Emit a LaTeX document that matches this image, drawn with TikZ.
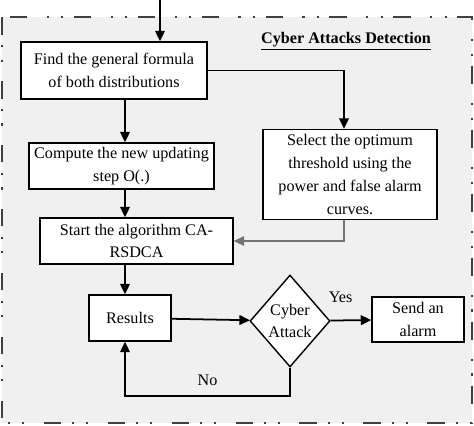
\documentclass[tikz,border=0pt]{standalone}
\usepackage{fontspec}
\setmainfont{Liberation Serif}
\usetikzlibrary{arrows.meta,shapes.geometric}

\begin{document}
\begin{tikzpicture}[x=0.02cm, y=-0.02cm, >={Triangle[length=6pt,width=5.5pt]},
  font=\fontsize{9.2}{13}\selectfont]
\tikzset{box/.style={rectangle, draw=black, line width=0.8pt, fill=white, align=center, inner sep=0pt},
  flow/.style={->, line width=1pt}}
\useasboundingbox (0,0) rectangle (474,426);
\draw[black!75, line width=1.6pt, fill=black!6, dash pattern=on 10pt off 6pt on 1.2pt off 7pt on 1.2pt off 11pt] (2,17) rectangle (472,423);
\node (title) at (346,41) {\textbf{\underline{Cyber Attacks Detection}}};
\node (find) at (114,70.5) [box, minimum width=3.72cm, minimum height=1.14cm] {Find the general formula\\of both distributions};
\node (compute) at (121.5,166) [box, minimum width=3.7cm, minimum height=0.92cm] {Compute the new updating\\step O(.)};
\node (start) at (136.5,241) [box, minimum width=3.86cm, minimum height=0.92cm] {Start the algorithm CA-\\RSDCA};
\node (select) at (350,174.5) [box, minimum width=3.48cm, minimum height=1.8cm] {Select the optimum\\threshold using the\\power and false alarm\\curves.};
\node (results) at (130,318) [box, minimum width=1.64cm, minimum height=0.92cm] {Results};
\node (attack) at (290,321) [diamond, draw=black, line width=0.8pt, fill=white, align=center, inner sep=0pt, minimum width=1.6cm, minimum height=1.84cm] {Cyber\\Attack};
\node (send) at (418,319.5) [box, minimum width=1.84cm, minimum height=0.9cm] {Send an\\alarm};
\coordinate (in) at (160,0);
\coordinate (spine) at (125,0);
\coordinate (side) at (344,0);
\coordinate (loop) at (290,396);
% main flow
\draw[flow] (in) -- (find.north -| in);
\draw[flow] (find.south -| spine) -- (compute.north -| spine);
\draw[flow] (compute.south -| spine) -- (start.north -| spine);
\draw[flow] (start.south -| spine) -- (results.north -| spine);
\draw[flow] (find.east) -| (select.north -| side);
\draw[->, black!55, line width=0.6pt] (select.south -| side) |- (start.east);
\draw[flow] (results) -- (attack);
\draw[flow] (attack) -- node[pos=0.25, above=6pt] {Yes} (send);
\draw[flow] (attack.south) -- (loop) -| node[pos=0.25, above=2pt] {No} (results.south -| spine);
\end{tikzpicture}
\end{document}
